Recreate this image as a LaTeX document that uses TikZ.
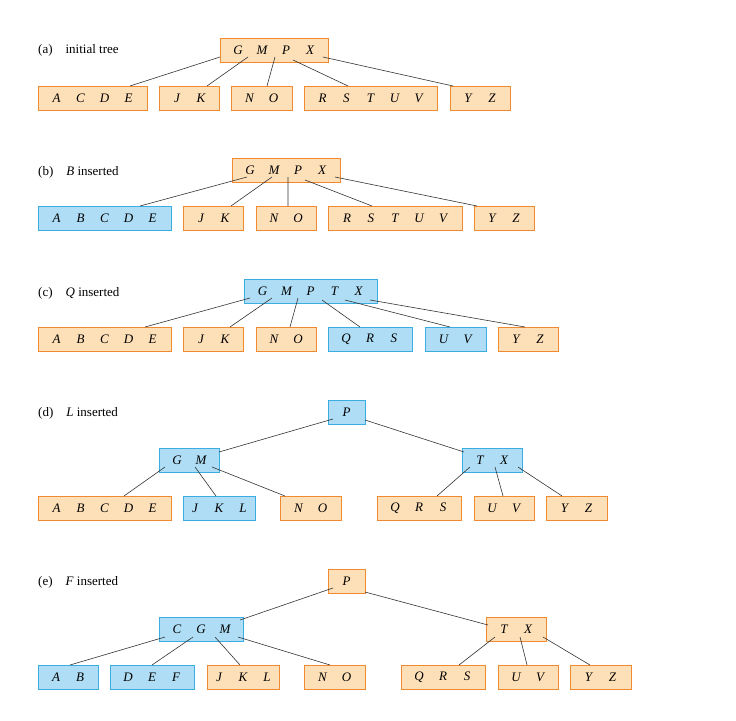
\documentclass[tikz,border=0pt]{standalone}
\usepackage{fontspec}
\setmainfont{Liberation Serif}
\definecolor{ofill}{HTML}{FDDFB8}
\definecolor{oline}{HTML}{F08A30}
\definecolor{bfill}{HTML}{AEDDF5}
\definecolor{bline}{HTML}{3AAEE0}
\newcommand\Kx[1]{\makebox[24pt]{\itshape #1}}
\newcommand\bx[6]{\node[#4,minimum width={(#2-#1)*1pt}] (#6) at ({(#1+#2)/2},{#3+12}) {#5};}
\tikzset{
 ob/.style={draw=oline,fill=ofill,minimum height=24pt,inner sep=0pt,font=\fontsize{13}{15}\selectfont},
 bb/.style={draw=bline,fill=bfill,minimum height=24pt,inner sep=0pt,font=\fontsize{13}{15}\selectfont},
 ed/.style={draw=black!80,line width=0.6pt},
 lab/.style={anchor=west,font=\fontsize{13}{15}\selectfont,inner sep=0pt}
}
\begin{document}
\begin{tikzpicture}[x=1pt,y=-1pt]
\useasboundingbox (0,0) rectangle (736,720);
% (a)
\node[lab] (la) at (38,50) {(a)\quad initial tree};
\bx{220}{328}{38}{ob}{\Kx G\Kx M\Kx P\Kx X}{ar}
\bx{38}{147}{86}{ob}{\Kx A\Kx C\Kx D\Kx E}{a1}
\bx{159}{219}{86}{ob}{\Kx J\Kx K}{a2}
\bx{231}{292}{86}{ob}{\Kx N\Kx O}{a3}
\bx{304}{437}{86}{ob}{\Kx R\Kx S\Kx T\Kx U\Kx V}{a4}
\bx{450}{510}{86}{ob}{\Kx Y\Kx Z}{a5}
\draw[ed] (220,57)--(130,86) (248,57)--(207,86) (275,57)--(267,86) (293,60)--(348,86) (323,57)--(453,86);
% (b)
\node[lab] (lb) at (38,172) {(b)\quad \textit{B} inserted};
\bx{232}{340}{158}{ob}{\Kx G\Kx M\Kx P\Kx X}{br}
\bx{38}{171}{206}{bb}{\Kx A\Kx B\Kx C\Kx D\Kx E}{b1}
\bx{183}{243}{206}{ob}{\Kx J\Kx K}{b2}
\bx{256}{316}{206}{ob}{\Kx N\Kx O}{b3}
\bx{328}{462}{206}{ob}{\Kx R\Kx S\Kx T\Kx U\Kx V}{b4}
\bx{474}{534}{206}{ob}{\Kx Y\Kx Z}{b5}
\draw[ed] (247,177)--(140,206) (272,177)--(231,206) (288,177)--(288,206) (305,180)--(372,206) (335,177)--(477,206);
% (c)
\node[lab] (lc) at (38,293) {(c)\quad \textit{Q} inserted};
\bx{244}{377}{279}{bb}{\Kx G\Kx M\Kx P\Kx T\Kx X}{cr}
\bx{38}{171}{327}{ob}{\Kx A\Kx B\Kx C\Kx D\Kx E}{c1}
\bx{183}{243}{327}{ob}{\Kx J\Kx K}{c2}
\bx{256}{316}{327}{ob}{\Kx N\Kx O}{c3}
\bx{328}{412}{327}{bb}{\Kx Q\Kx R\Kx S}{c4}
\bx{425}{486}{327}{bb}{\Kx U\Kx V}{c5}
\bx{498}{558}{327}{ob}{\Kx Y\Kx Z}{c6}
\draw[ed] (250,298)--(145,327) (272,298)--(230,327) (298,298)--(290,327) (322,300)--(360,327) (345,300)--(450,327) (370,300)--(525,327);
% (d)
\node[lab] (ld) at (38,413) {(d)\quad \textit{L} inserted};
\bx{328}{365}{400}{bb}{\Kx P}{dr}
\bx{159}{219}{448}{bb}{\Kx G\Kx M}{dl}
\bx{462}{522}{448}{bb}{\Kx T\Kx X}{dm}
\bx{38}{171}{496}{ob}{\Kx A\Kx B\Kx C\Kx D\Kx E}{d1}
\bx{183}{255}{496}{bb}{\Kx J\Kx K\Kx L}{d2}
\bx{280}{341}{496}{ob}{\Kx N\Kx O}{d3}
\bx{377}{461}{496}{ob}{\Kx Q\Kx R\Kx S}{d4}
\bx{474}{534}{496}{ob}{\Kx U\Kx V}{d5}
\bx{546}{607}{496}{ob}{\Kx Y\Kx Z}{d6}
\draw[ed] (333,419)--(219,452) (365,420)--(464,452);
\draw[ed] (165,467)--(124,496) (195,467)--(216,496) (212,467)--(285,496) (470,467)--(437,496) (495,467)--(503,496) (518,467)--(562,496);
% (e)
\node[lab] (le) at (38,582) {(e)\quad \textit{F} inserted};
\bx{328}{365}{569}{ob}{\Kx P}{er}
\bx{159}{243}{617}{bb}{\Kx C\Kx G\Kx M}{el}
\bx{486}{546}{617}{ob}{\Kx T\Kx X}{em}
\bx{38}{98}{665}{bb}{\Kx A\Kx B}{e1}
\bx{110}{194}{665}{bb}{\Kx D\Kx E\Kx F}{e2}
\bx{207}{279}{665}{ob}{\Kx J\Kx K\Kx L}{e3}
\bx{304}{365}{665}{ob}{\Kx N\Kx O}{e4}
\bx{401}{485}{665}{ob}{\Kx Q\Kx R\Kx S}{e5}
\bx{498}{558}{665}{ob}{\Kx U\Kx V}{e6}
\bx{570}{631}{665}{ob}{\Kx Y\Kx Z}{e7}
\draw[ed] (333,588)--(240,620) (365,592)--(488,625);
\draw[ed] (165,637)--(70,665) (193,637)--(152,665) (215,637)--(240,665) (238,637)--(330,665) (495,637)--(459,665) (520,637)--(527,665) (543,637)--(590,665);
\end{tikzpicture}
\end{document}
